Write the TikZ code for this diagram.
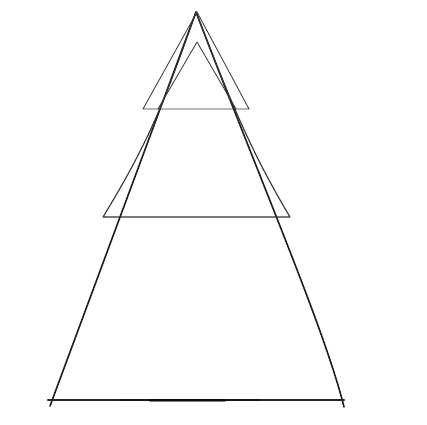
\documentclass[tikz,border=0pt]{standalone}
\begin{document}
\begin{tikzpicture}[x=1pt,y=-1pt,
  heavy/.style={draw=black!88,line width=1.6pt,line cap=round,line join=round},
  thin/.style={draw=black!80,line width=0.8pt,line cap=round,line join=round},
  base/.style={draw=black!85,line width=2.2pt,line cap=round}]
\useasboundingbox (0,0) rectangle (427,424);
\coordinate (apex) at (196,12);
\coordinate (bl) at (50,406);
\coordinate (br) at (344,407);
% pyramid sides
\draw[heavy] (apex) -- (bl);
\draw[heavy] (apex) .. controls (260,180) and (325,330) .. (br);
% bottom line
\coordinate (b1) at (48,400);
\coordinate (b2) at (344,400);
\draw[base] (b1) -- (b2);
\draw[draw=black,line width=2.8pt,opacity=0.4,line cap=round] (120,400) -- (260,400);
\draw[draw=black,line width=3pt,opacity=0.5,line cap=round] (150,400) -- (225,400);
% top outer triangle
\coordinate (t1) at (197,12);
\coordinate (t2) at (143,109);
\coordinate (t3) at (249,109);
\draw[thin] (t1) -- (t2) -- (t3) -- cycle;
% inner triangle
\coordinate (i1) at (197,42);
\coordinate (i2) at (158,109);
\coordinate (i3) at (236,109);
\draw[thin] (i2) -- (i1) -- (i3);
% middle triangle
\coordinate (m1) at (103,217);
\coordinate (m2) at (290,217);
\draw[thin,line width=1.1pt] (apex) .. controls (165,100) and (150,140) .. (m1) -- (m2) .. controls (250,150) and (230,100) .. (apex);
\end{tikzpicture}
\end{document}
